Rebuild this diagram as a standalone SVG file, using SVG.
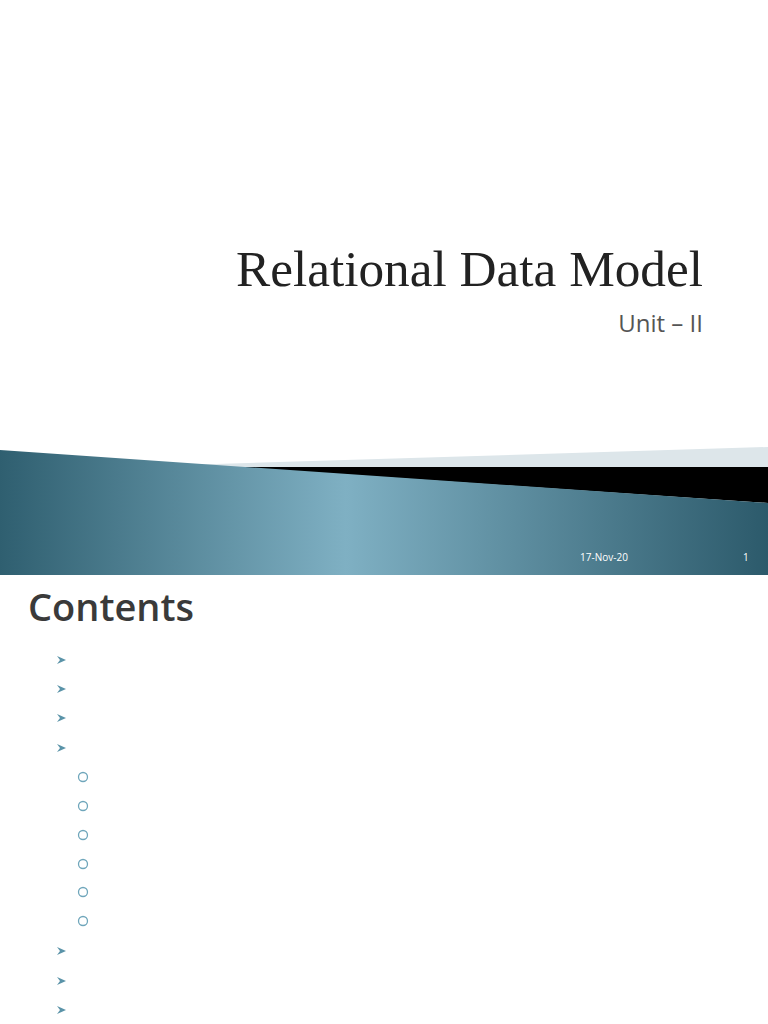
<svg xmlns="http://www.w3.org/2000/svg" width="768" height="1024" viewBox="0 0 768 1024">
<defs>
<linearGradient id="teal" x1="0" y1="0" x2="1" y2="0">
<stop offset="0" stop-color="#2f5f70"/>
<stop offset="0.45" stop-color="#7fb0c3"/>
<stop offset="1" stop-color="#2c5a6b"/>
</linearGradient>
<g id="arrow"><path d="M0,-4 L9,0 L0,4 L3,0 Z" fill="#5a93a8"/></g>
<g id="circ"><circle r="4.5" fill="none" stroke="#6fa6bb" stroke-width="1.3"/></g>
<style>
.ft{font-family:"Open Sans","DejaVu Sans",sans-serif;font-size:10px;fill:#fff}
</style>
</defs>
<rect width="768" height="1024" fill="#fff"/>
<text x="236" y="286" textLength="467" lengthAdjust="spacingAndGlyphs" font-family="'Liberation Serif',serif" font-size="50" fill="#222">Relational Data Model</text>
<text x="703" y="332" text-anchor="end" font-family="'Open Sans','DejaVu Sans',sans-serif" font-size="24" fill="#555">Unit – II</text>
<polygon points="150,466 768,447 768,467 230,467" fill="#dde6ea"/>
<polygon points="230,467 768,467 768,503" fill="#000"/>
<polygon points="0,450 768,503 768,575 0,575" fill="url(#teal)"/>
<text class="ft" x="580" y="561">17-Nov-20</text>
<text class="ft" x="743" y="561">1</text>
<text x="28" y="621" font-family="'Open Sans','DejaVu Sans',sans-serif" font-size="38" font-weight="600" fill="#3a3a3a">Contents</text>
<use href="#arrow" x="57" y="660"/>
<use href="#arrow" x="57" y="689"/>
<use href="#arrow" x="57" y="718"/>
<use href="#arrow" x="57" y="748"/>
<use href="#circ" x="83" y="777"/>
<use href="#circ" x="83" y="806"/>
<use href="#circ" x="83" y="835"/>
<use href="#circ" x="83" y="864"/>
<use href="#circ" x="83" y="892"/>
<use href="#circ" x="83" y="921"/>
<use href="#arrow" x="57" y="951"/>
<use href="#arrow" x="57" y="981"/>
<use href="#arrow" x="57" y="1010"/>
</svg>
